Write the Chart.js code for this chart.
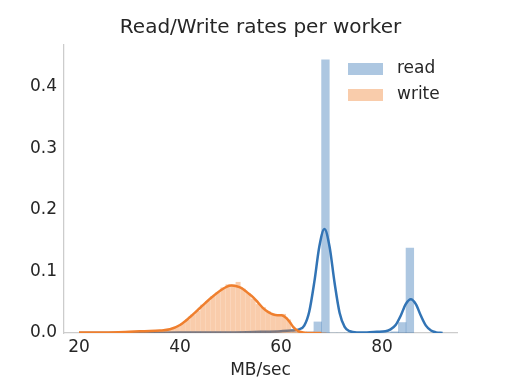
<!DOCTYPE html>
<html>
<head>
<meta charset="utf-8">
<script src="https://cdn.jsdelivr.net/npm/chart.js@4/dist/chart.umd.min.js"></script>
<style>
  body { margin: 0; background: #fff; }
  #wrap { width: 508px; height: 381px; }
</style>
</head>
<body>
<div id="wrap"><canvas id="rwChart"></canvas></div>
<script>
// histogram bin centres and densities
const readBins = [65.76, 67.28, 68.80, 70.32, 71.84, 73.36, 74.88, 76.40, 77.92, 79.44, 80.96, 82.48, 84.00, 85.52];
const readHist = [0.002, 0.018, 0.444, 0, 0, 0, 0, 0, 0, 0, 0, 0.002, 0.017, 0.138];

const writeBins = [20.5, 21.5, 22.5, 23.5, 24.5, 25.5, 26.5, 27.5, 28.5, 29.5, 30.5, 31.5, 32.5, 33.5, 34.5,
  35.5, 36.5, 37.5, 38.5, 39.5, 40.5, 41.5, 42.5, 43.5, 44.5, 45.5, 46.5, 47.5, 48.5, 49.5, 50.5, 51.5,
  52.5, 53.5, 54.5, 55.5, 56.5, 57.5, 58.5, 59.5, 60.5, 61.5, 62.5, 63.5, 64.5, 65.5, 66.5, 67.5, 68.5];
const writeHist = [0.001, 0, 0.001, 0, 0, 0.001, 0.001, 0, 0.001, 0.002, 0.002, 0.002, 0.003, 0.003, 0.004,
  0.004, 0.005, 0.006, 0.008, 0.011, 0.016, 0.022, 0.030, 0.036, 0.046, 0.052, 0.060, 0.066, 0.074, 0.079, 0.079, 0.083,
  0.072, 0.065, 0.056, 0.047, 0.042, 0.035, 0.030, 0.029, 0.031, 0.022, 0.005, 0.002, 0.001, 0.001, 0.001, 0.001, 0.001];

// kde curves
const readKdeX = [20, 30, 40, 50, 56, 60, 62, 63.6, 64.6, 65.6, 66.6, 67.6, 68.6, 69.6, 70.6, 71.6, 72.6, 73.6,
  75, 77, 79, 80.7, 81.7, 82.7, 83.7, 84.7, 85.7, 86.7, 87.7, 88.7, 89.7, 90.7, 92];
const readKdeY = [0.000, 0.000, 0.001, 0.001, 0.002, 0.003, 0.004, 0.006, 0.012, 0.035, 0.083, 0.141, 0.169, 0.141, 0.082, 0.033, 0.010, 0.003,
  0.001, 0.001, 0.002, 0.003, 0.006, 0.013, 0.028, 0.047, 0.055, 0.047, 0.028, 0.012, 0.004, 0.001, 0.000];

const writeKdeX = [20, 25, 30, 33, 36, 38, 40, 42, 44, 46, 48, 49.2, 50.2, 51.2, 52.2, 53.3, 54.5, 55.5, 56.5,
  57.5, 58.5, 59.3, 60.1, 61.1, 61.8, 62.4, 63.4, 64.4, 66, 68];
const writeKdeY = [0.001, 0.001, 0.002, 0.003, 0.004, 0.006, 0.013, 0.026, 0.041, 0.056, 0.069, 0.075, 0.077, 0.076, 0.073, 0.066, 0.058, 0.049, 0.040,
  0.034, 0.030, 0.029, 0.029, 0.024, 0.017, 0.010, 0.003, 0.001, 0.000, 0.000];

const xTicks = [20, 40, 60, 80];
const yTicks = [0.0, 0.1, 0.2, 0.3, 0.4];

const pts = (xs, ys) => xs.map((x, i) => ({x: x, y: ys[i]}));

const blue = 'rgb(50,116,181)';
const orange = 'rgb(239,127,46)';

Chart.defaults.font.family = '"DejaVu Sans", sans-serif';
Chart.defaults.color = '#262626';

// legend drawn inside the plot, top right
const histLegend = {
  id: 'histLegend',
  afterDraw(chart) {
    const {ctx, chartArea} = chart;
    const bars = chart.data.datasets.filter(d => d.type === 'bar');
    ctx.save();
    ctx.font = '17px "DejaVu Sans"';
    ctx.textBaseline = 'middle';
    bars.forEach((ds, i) => {
      const y = chartArea.top + 24 + i * 26;
      ctx.fillStyle = ds.backgroundColor;
      ctx.fillRect(chartArea.right - 109, y - 6, 35, 12);
      ctx.fillStyle = '#262626';
      ctx.fillText(ds.label, chartArea.right - 60, y);
    });
    ctx.restore();
  }
};

const xRange = { min: 17.03, max: 94.85 };

new Chart(document.getElementById('rwChart'), {
  data: {
    datasets: [
      {
        type: 'bar', label: 'read', xAxisID: 'x',
        data: pts(readBins, readHist),
        backgroundColor: 'rgba(50,116,181,0.4)',
        grouped: false, barPercentage: 1, categoryPercentage: 1, order: 3
      },
      {
        type: 'line', label: 'read kde', xAxisID: 'x',
        data: pts(readKdeX, readKdeY),
        borderColor: blue, borderWidth: 2.5, pointRadius: 0,
        cubicInterpolationMode: 'monotone', order: 2
      },
      {
        type: 'bar', label: 'write', xAxisID: 'x2',
        data: pts(writeBins, writeHist),
        backgroundColor: 'rgba(239,127,46,0.4)',
        grouped: false, barPercentage: 0.98, categoryPercentage: 1, order: 1
      },
      {
        type: 'line', label: 'write kde', xAxisID: 'x2',
        data: pts(writeKdeX, writeKdeY),
        borderColor: orange, borderWidth: 2.5, pointRadius: 0,
        cubicInterpolationMode: 'monotone', order: 0
      }
    ]
  },
  options: {
    responsive: true,
    maintainAspectRatio: false,
    animation: false,
    events: [],
    layout: { padding: { left: 0, right: 51, top: 0, bottom: 0 } },
    plugins: {
      legend: { display: false },
      tooltip: { enabled: false },
      title: {
        display: true,
        fullSize: false,
        text: 'Read/Write rates per worker',
        font: { size: 20, weight: 'normal' },
        color: '#262626',
        padding: { top: 16, bottom: 5 }
      }
    },
    scales: {
      x: {
        type: 'linear', min: xRange.min, max: xRange.max, offset: false,
        grid: { display: false, drawTicks: false, offset: false },
        border: { display: true, color: '#cccccc', width: 1.25 },
        afterBuildTicks: s => { s.ticks = xTicks.map(v => ({value: v})); },
        afterFit: s => { s.height = 48; },
        ticks: { font: { size: 17 }, padding: 4, color: '#262626' },
        title: { display: true, text: 'MB/sec', font: { size: 17 }, color: '#262626', padding: { top: 0, bottom: 0 } }
      },
      x2: {
        type: 'linear', axis: 'x', position: 'bottom', min: xRange.min, max: xRange.max,
        offset: false, grid: { offset: false },
        display: false
      },
      y: {
        min: 0, max: 0.468,
        grid: { display: false, drawTicks: false },
        border: { display: true, color: '#cccccc', width: 1.25 },
        afterBuildTicks: s => { s.ticks = yTicks.map(v => ({value: v})); },
        afterFit: s => { s.width = 64; },
        ticks: { font: { size: 17 }, padding: 7, color: '#262626', callback: v => v.toFixed(1) }
      }
    }
  },
  plugins: [histLegend]
});
</script>
</body>
</html>
